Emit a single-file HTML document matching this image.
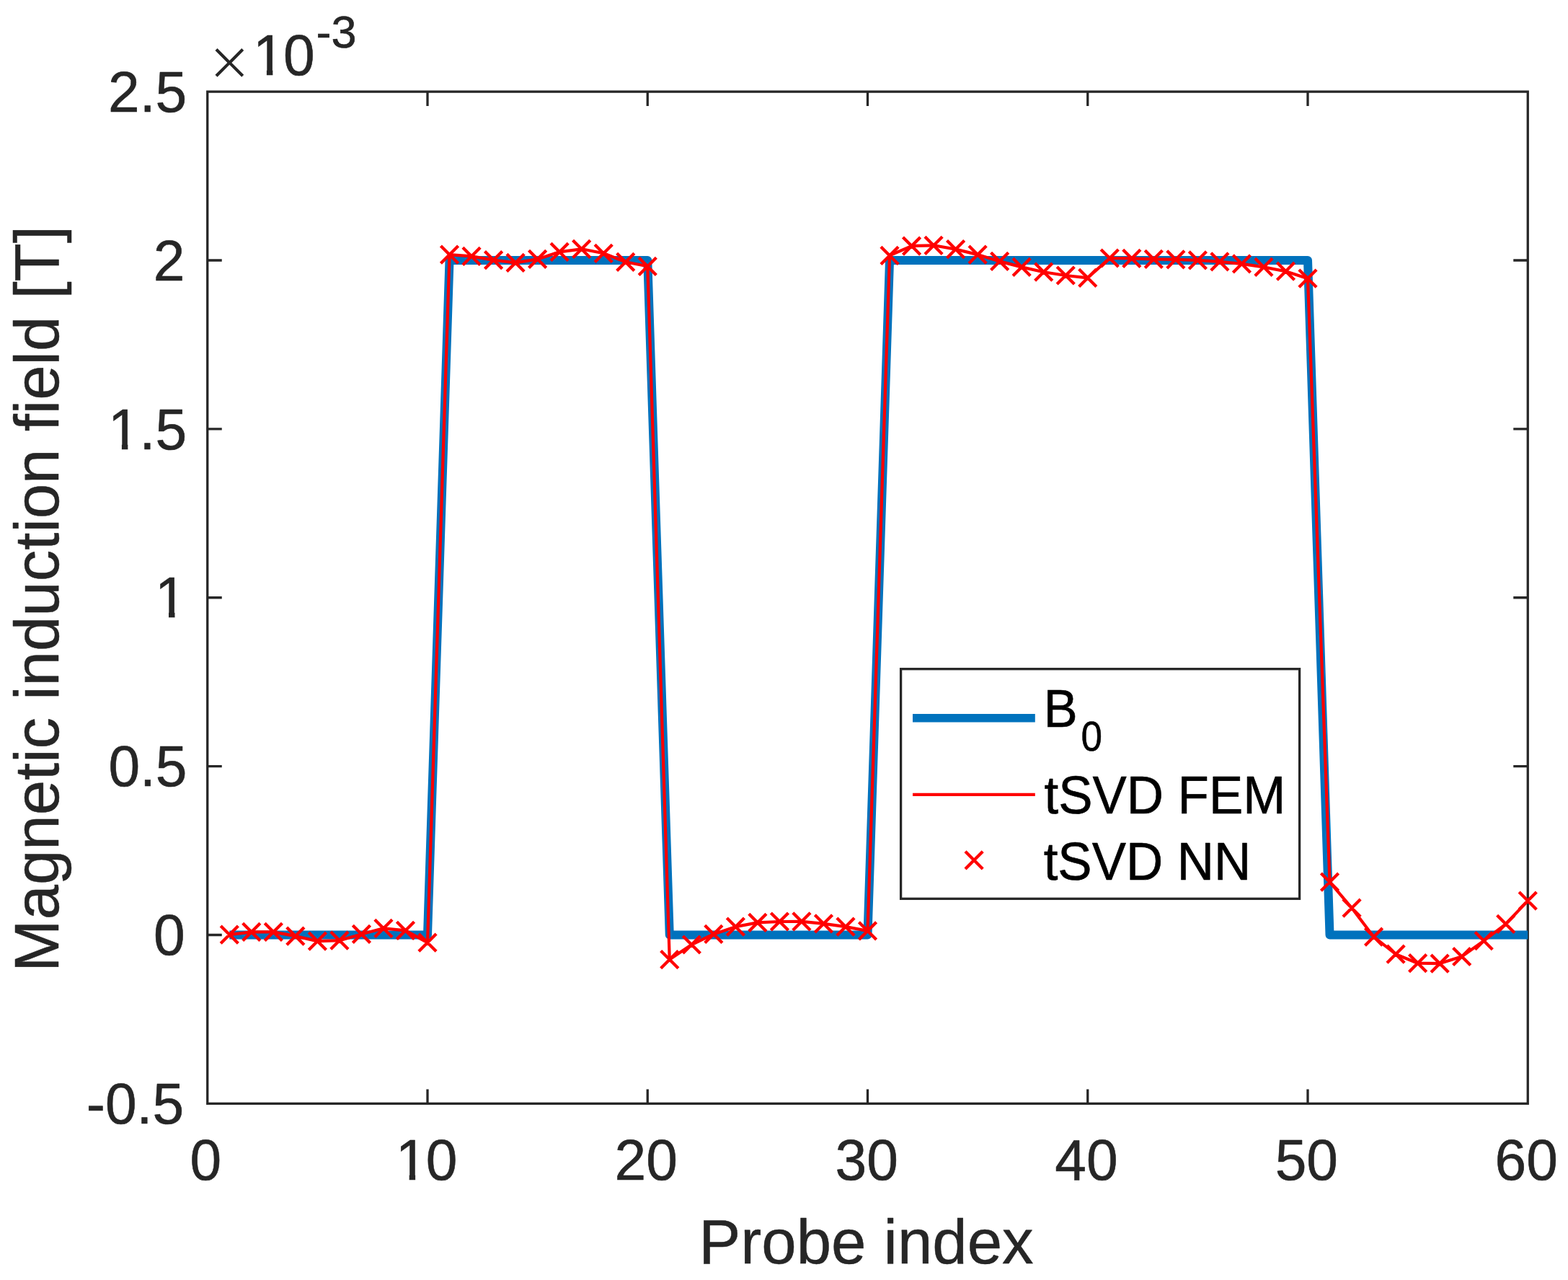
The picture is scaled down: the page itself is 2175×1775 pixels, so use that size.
<!DOCTYPE html>
<html><head><meta charset="utf-8"><title>Magnetic induction field vs probe index</title><style>html,body{margin:0;padding:0;background:#fff;overflow:hidden;}svg{display:block;}</style></head><body>
<svg width="2175" height="1775" viewBox="0 0 2175 1775">
<rect x="0" y="0" width="2175" height="1775" fill="#ffffff"/>
<path d="M593,1530.38V1510.38M593,127.12V147.12M898.25,1530.38V1510.38M898.25,127.12V147.12M1203.5,1530.38V1510.38M1203.5,127.12V147.12M1508.75,1530.38V1510.38M1508.75,127.12V147.12M1814,1530.38V1510.38M1814,127.12V147.12M287.75,1296.5H307.75M2119.25,1296.5H2099.25M287.75,1062.62H307.75M2119.25,1062.62H2099.25M287.75,828.75H307.75M2119.25,828.75H2099.25M287.75,594.88H307.75M2119.25,594.88H2099.25M287.75,361H307.75M2119.25,361H2099.25" fill="none" stroke="#262626" stroke-width="3.3"/>
<rect x="287.75" y="127.12" width="1831.5" height="1403.25" fill="none" stroke="#262626" stroke-width="3.3" stroke-linejoin="miter"/>
<polyline points="318.27,1296.5 348.8,1296.5 379.32,1296.5 409.85,1296.5 440.38,1296.5 470.9,1296.5 501.42,1296.5 531.95,1296.5 562.47,1296.5 593,1296.5 623.52,361 654.05,361 684.58,361 715.1,361 745.62,361 776.15,361 806.67,361 837.2,361 867.73,361 898.25,361 928.77,1296.5 959.3,1296.5 989.82,1296.5 1020.35,1296.5 1050.88,1296.5 1081.4,1296.5 1111.92,1296.5 1142.45,1296.5 1172.97,1296.5 1203.5,1296.5 1234.03,361 1264.55,361 1295.07,361 1325.6,361 1356.12,361 1386.65,361 1417.17,361 1447.7,361 1478.22,361 1508.75,361 1539.27,361 1569.8,361 1600.33,361 1630.85,361 1661.38,361 1691.9,361 1722.42,361 1752.95,361 1783.47,361 1814,361 1844.52,1296.5 1875.05,1296.5 1905.57,1296.5 1936.1,1296.5 1966.62,1296.5 1997.15,1296.5 2027.67,1296.5 2058.2,1296.5 2088.72,1296.5 2119.25,1296.5" fill="none" stroke="#0072BD" stroke-width="12" stroke-linejoin="round" stroke-linecap="butt"/>
<polyline points="318.27,1296.2 348.8,1292.4 379.32,1292.4 409.85,1298.1 440.38,1305.2 470.9,1304.2 501.42,1295.4 531.95,1287.3 562.47,1290.3 593,1307.2 623.52,353.1 654.05,355.4 684.58,360.6 715.1,364.4 745.62,359.4 776.15,349.3 806.67,345.3 837.2,351.3 867.73,363.3 898.25,369.3 928.77,1330.6 959.3,1310 989.82,1295.4 1020.35,1285.1 1050.88,1279.4 1081.4,1278 1111.92,1277.9 1142.45,1280.9 1172.97,1285.1 1203.5,1290.9 1234.03,354.3 1264.55,341.1 1295.07,340.3 1325.6,345.6 1356.12,353.1 1386.65,362.4 1417.17,370.4 1447.7,377.2 1478.22,382 1508.75,385.3 1539.27,358 1569.8,358.4 1600.33,359.4 1630.85,359.9 1661.38,360.9 1691.9,362.9 1722.42,365.9 1752.95,370.4 1783.47,376.2 1814,386.2 1844.52,1223.2 1875.05,1259.1 1905.57,1299.2 1936.1,1323.2 1966.62,1335.7 1997.15,1336.1 2027.67,1326.5 2058.2,1304.6 2088.72,1281.3 2119.25,1249.1" fill="none" stroke="#FF0000" stroke-width="4.2" stroke-linejoin="round" stroke-linecap="butt"/>
<path d="M306.17,1284.1L330.38,1308.3M306.17,1308.3L330.38,1284.1M336.7,1280.3L360.9,1304.5M336.7,1304.5L360.9,1280.3M367.22,1280.3L391.43,1304.5M367.22,1304.5L391.43,1280.3M397.75,1286L421.95,1310.2M397.75,1310.2L421.95,1286M428.27,1293.1L452.48,1317.3M428.27,1317.3L452.48,1293.1M458.8,1292.1L483,1316.3M458.8,1316.3L483,1292.1M489.32,1283.3L513.52,1307.5M489.32,1307.5L513.52,1283.3M519.85,1275.2L544.05,1299.4M519.85,1299.4L544.05,1275.2M550.37,1278.2L574.57,1302.4M550.37,1302.4L574.57,1278.2M580.9,1295.1L605.1,1319.3M580.9,1319.3L605.1,1295.1M611.42,341L635.62,365.2M611.42,365.2L635.62,341M641.95,343.3L666.15,367.5M641.95,367.5L666.15,343.3M672.48,348.5L696.68,372.7M672.48,372.7L696.68,348.5M703,352.3L727.2,376.5M703,376.5L727.2,352.3M733.52,347.3L757.73,371.5M733.52,371.5L757.73,347.3M764.05,337.2L788.25,361.4M764.05,361.4L788.25,337.2M794.57,333.2L818.77,357.4M794.57,357.4L818.77,333.2M825.1,339.2L849.3,363.4M825.1,363.4L849.3,339.2M855.62,351.2L879.83,375.4M855.62,375.4L879.83,351.2M886.15,357.2L910.35,381.4M886.15,381.4L910.35,357.2M916.67,1318.5L940.88,1342.7M916.67,1342.7L940.88,1318.5M947.2,1297.9L971.4,1322.1M947.2,1322.1L971.4,1297.9M977.72,1283.3L1001.92,1307.5M977.72,1307.5L1001.92,1283.3M1008.25,1273L1032.45,1297.2M1008.25,1297.2L1032.45,1273M1038.78,1267.3L1062.97,1291.5M1038.78,1291.5L1062.97,1267.3M1069.3,1265.9L1093.5,1290.1M1069.3,1290.1L1093.5,1265.9M1099.83,1265.8L1124.02,1290M1099.83,1290L1124.02,1265.8M1130.35,1268.8L1154.55,1293M1130.35,1293L1154.55,1268.8M1160.88,1273L1185.07,1297.2M1160.88,1297.2L1185.07,1273M1191.4,1278.8L1215.6,1303M1191.4,1303L1215.6,1278.8M1221.93,342.2L1246.12,366.4M1221.93,366.4L1246.12,342.2M1252.45,329L1276.65,353.2M1252.45,353.2L1276.65,329M1282.97,328.2L1307.17,352.4M1282.97,352.4L1307.17,328.2M1313.5,333.5L1337.7,357.7M1313.5,357.7L1337.7,333.5M1344.03,341L1368.22,365.2M1344.03,365.2L1368.22,341M1374.55,350.3L1398.75,374.5M1374.55,374.5L1398.75,350.3M1405.08,358.3L1429.27,382.5M1405.08,382.5L1429.27,358.3M1435.6,365.1L1459.8,389.3M1435.6,389.3L1459.8,365.1M1466.12,369.9L1490.32,394.1M1466.12,394.1L1490.32,369.9M1496.65,373.2L1520.85,397.4M1496.65,397.4L1520.85,373.2M1527.17,345.9L1551.37,370.1M1527.17,370.1L1551.37,345.9M1557.7,346.3L1581.9,370.5M1557.7,370.5L1581.9,346.3M1588.23,347.3L1612.42,371.5M1588.23,371.5L1612.42,347.3M1618.75,347.8L1642.95,372M1618.75,372L1642.95,347.8M1649.28,348.8L1673.47,373M1649.28,373L1673.47,348.8M1679.8,350.8L1704,375M1679.8,375L1704,350.8M1710.33,353.8L1734.52,378M1710.33,378L1734.52,353.8M1740.85,358.3L1765.05,382.5M1740.85,382.5L1765.05,358.3M1771.38,364.1L1795.57,388.3M1771.38,388.3L1795.57,364.1M1801.9,374.1L1826.1,398.3M1801.9,398.3L1826.1,374.1M1832.42,1211.1L1856.62,1235.3M1832.42,1235.3L1856.62,1211.1M1862.95,1247L1887.15,1271.2M1862.95,1271.2L1887.15,1247M1893.47,1287.1L1917.67,1311.3M1893.47,1311.3L1917.67,1287.1M1924,1311.1L1948.2,1335.3M1924,1335.3L1948.2,1311.1M1954.53,1323.6L1978.72,1347.8M1954.53,1347.8L1978.72,1323.6M1985.05,1324L2009.25,1348.2M1985.05,1348.2L2009.25,1324M2015.58,1314.4L2039.77,1338.6M2015.58,1338.6L2039.77,1314.4M2046.1,1292.5L2070.3,1316.7M2046.1,1316.7L2070.3,1292.5M2076.62,1269.2L2100.82,1293.4M2076.62,1293.4L2100.82,1269.2M2107.15,1237L2131.35,1261.2M2107.15,1261.2L2131.35,1237" fill="none" stroke="#FF0000" stroke-width="4.3" stroke-linecap="butt"/>
<rect x="1249.6" y="927.7" width="553" height="318.6" fill="#ffffff" stroke="#262626" stroke-width="3.3"/>
<line x1="1266" y1="995.7" x2="1435.8" y2="995.7" stroke="#0072BD" stroke-width="11.6"/>
<line x1="1266" y1="1101.9" x2="1435.8" y2="1101.9" stroke="#FF0000" stroke-width="4.4"/>
<path d="M1339,1180.8L1363.2,1205M1339,1205L1363.2,1180.8" stroke="#FF0000" stroke-width="4.3" fill="none"/>
<defs><clipPath id="foot_xt10"><path clip-rule="evenodd" d="M-600,-300H600V300H-600ZM-38.93,-7.46H-23.92V3.00H-38.93ZM-15.48,-7.46H-1.08V3.00H-15.48Z"/></clipPath><clipPath id="foot_yt1"><path clip-rule="evenodd" d="M-600,-300H600V300H-600ZM-39.68,-7.46H-24.67V3.00H-39.68ZM-16.23,-7.46H-1.83V3.00H-16.23Z"/></clipPath><clipPath id="foot_yt1_5"><path clip-rule="evenodd" d="M-600,-300H600V300H-600ZM-105.15,-7.46H-90.14V3.00H-105.15ZM-81.70,-7.46H-67.30V3.00H-81.70Z"/></clipPath><clipPath id="foot_ten"><path clip-rule="evenodd" d="M-600,-300H600V300H-600ZM3.98,-7.46H18.99V3.00H3.98ZM27.43,-7.46H41.82V3.00H27.43Z"/></clipPath></defs>
<text transform="translate(285.25,1635.65) scale(1.0000,1.0200)" text-anchor="middle" font-family="'Liberation Sans', Arial, Helvetica, sans-serif" font-size="78.5" fill="#262626" stroke="#262626" stroke-width="0.6" stroke-linejoin="round">0</text>
<text transform="translate(591.6,1635.5) scale(1.0000,1.0200)" text-anchor="middle" clip-path="url(#foot_xt10)" font-family="'Liberation Sans', Arial, Helvetica, sans-serif" font-size="78.5" fill="#262626" stroke="#262626" stroke-width="0.6" stroke-linejoin="round">1<tspan dx="-1.5">0</tspan></text>
<text transform="translate(896.25,1635.5) scale(1.0000,1.0200)" text-anchor="middle" font-family="'Liberation Sans', Arial, Helvetica, sans-serif" font-size="78.5" fill="#262626" stroke="#262626" stroke-width="0.6" stroke-linejoin="round">20</text>
<text transform="translate(1202.15,1635.8) scale(1.0000,1.0200)" text-anchor="middle" font-family="'Liberation Sans', Arial, Helvetica, sans-serif" font-size="78.5" fill="#262626" stroke="#262626" stroke-width="0.6" stroke-linejoin="round">30</text>
<text transform="translate(1507,1635.9) scale(1.0000,1.0200)" text-anchor="middle" font-family="'Liberation Sans', Arial, Helvetica, sans-serif" font-size="78.5" fill="#262626" stroke="#262626" stroke-width="0.6" stroke-linejoin="round">40</text>
<text transform="translate(1812.35,1635.75) scale(1.0000,1.0200)" text-anchor="middle" font-family="'Liberation Sans', Arial, Helvetica, sans-serif" font-size="78.5" fill="#262626" stroke="#262626" stroke-width="0.6" stroke-linejoin="round">50</text>
<text transform="translate(2117.2,1635.8) scale(1.0000,1.0200)" text-anchor="middle" font-family="'Liberation Sans', Arial, Helvetica, sans-serif" font-size="78.5" fill="#262626" stroke="#262626" stroke-width="0.6" stroke-linejoin="round">60</text>
<text transform="translate(255.05,1557.67) scale(1.0000,1.0200)" text-anchor="end" font-family="'Liberation Sans', Arial, Helvetica, sans-serif" font-size="78.5" fill="#262626" stroke="#262626" stroke-width="0.6" stroke-linejoin="round">-0.5</text>
<text transform="translate(256.6,1323.95) scale(1.0000,1.0200)" text-anchor="end" font-family="'Liberation Sans', Arial, Helvetica, sans-serif" font-size="78.5" fill="#262626" stroke="#262626" stroke-width="0.6" stroke-linejoin="round">0</text>
<text transform="translate(259.5,1090.27) scale(1.0000,1.0200)" text-anchor="end" font-family="'Liberation Sans', Arial, Helvetica, sans-serif" font-size="78.5" fill="#262626" stroke="#262626" stroke-width="0.6" stroke-linejoin="round">0.5</text>
<text transform="translate(258.7,856.45) scale(1.0000,1.0200)" text-anchor="end" clip-path="url(#foot_yt1)" font-family="'Liberation Sans', Arial, Helvetica, sans-serif" font-size="78.5" fill="#262626" stroke="#262626" stroke-width="0.6" stroke-linejoin="round">1</text>
<text transform="translate(259.05,622.67) scale(1.0000,1.0200)" text-anchor="end" clip-path="url(#foot_yt1_5)" font-family="'Liberation Sans', Arial, Helvetica, sans-serif" font-size="78.5" fill="#262626" stroke="#262626" stroke-width="0.6" stroke-linejoin="round">1.5</text>
<text transform="translate(256.5,389.2) scale(1.0000,1.0200)" text-anchor="end" font-family="'Liberation Sans', Arial, Helvetica, sans-serif" font-size="78.5" fill="#262626" stroke="#262626" stroke-width="0.6" stroke-linejoin="round">2</text>
<text transform="translate(259.15,155.33) scale(1.0000,1.0200)" text-anchor="end" font-family="'Liberation Sans', Arial, Helvetica, sans-serif" font-size="78.5" fill="#262626" stroke="#262626" stroke-width="0.6" stroke-linejoin="round">2.5</text>
<text transform="translate(1201.45,1752)" text-anchor="middle" font-family="'Liberation Sans', Arial, Helvetica, sans-serif" font-size="87.0" fill="#262626" stroke="#262626" stroke-width="0.5" stroke-linejoin="round">Probe index</text>
<text transform="translate(81.45,830.5) rotate(-90)" text-anchor="middle" font-family="'Liberation Sans', Arial, Helvetica, sans-serif" font-size="87.0" fill="#262626" stroke="#262626" stroke-width="0.5" stroke-linejoin="round">Magnetic induction field [T]</text>
<text transform="translate(287.55,109.5)" font-family="'Noto Sans CJK JP', 'Liberation Sans', sans-serif" font-size="61.7" fill="#262626">×</text>
<text transform="translate(350.9,104.25) scale(1.0000,1.0200)" clip-path="url(#foot_ten)" font-family="'Liberation Sans', Arial, Helvetica, sans-serif" font-size="78.5" fill="#262626" stroke="#262626" stroke-width="0.6" stroke-linejoin="round">1<tspan dx="-1.5">0</tspan></text>
<text transform="translate(438.6,65.7)" font-family="'Liberation Sans', Arial, Helvetica, sans-serif" font-size="63.0" fill="#262626" stroke="#262626" stroke-width="0.6" stroke-linejoin="round">-3</text>
<text transform="translate(1447.5,1007.8) scale(1.0000,1.0450)" font-family="'Liberation Sans', Arial, Helvetica, sans-serif" font-size="70.9" fill="#000000" stroke="#000000" stroke-width="0.6" stroke-linejoin="round">B</text>
<text transform="translate(1499.55,1040.95) scale(1.0000,1.0750)" font-family="'Liberation Sans', Arial, Helvetica, sans-serif" font-size="53.0" fill="#000000" stroke="#000000" stroke-width="0.5" stroke-linejoin="round">0</text>
<text transform="translate(1448.45,1128.25) scale(1.0000,1.0450)" font-family="'Liberation Sans', Arial, Helvetica, sans-serif" font-size="70.9" fill="#000000" stroke="#000000" stroke-width="0.6" stroke-linejoin="round">tSVD FEM</text>
<text transform="translate(1447.65,1220.05) scale(1.0000,1.0450)" font-family="'Liberation Sans', Arial, Helvetica, sans-serif" font-size="70.9" fill="#000000" stroke="#000000" stroke-width="0.6" stroke-linejoin="round">tSVD NN</text>
</svg>
</body></html>
